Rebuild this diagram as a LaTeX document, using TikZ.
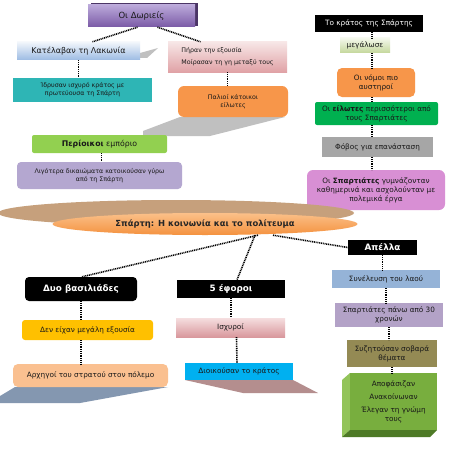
\documentclass[tikz,border=0pt]{standalone}
\usepackage{fontspec}
\setmainfont{DejaVu Sans}
\usetikzlibrary{shapes.geometric}

\definecolor{dorlight}{HTML}{BBA9DA}
\definecolor{dordark}{HTML}{7A5AA6}
\definecolor{dorshade}{HTML}{4B3566}
\definecolor{lakotop}{HTML}{F2F6FB}
\definecolor{lakobot}{HTML}{9CBBE3}
\definecolor{powtop}{HTML}{F7E6E6}
\definecolor{powbot}{HTML}{E0A2A6}
\definecolor{teal}{HTML}{2EB5B5}
\definecolor{helorange}{HTML}{F7964A}
\definecolor{shadowgray}{HTML}{C0C0C0}
\definecolor{periogreen}{HTML}{92D050}
\definecolor{rightslav}{HTML}{B4A7D0}
\definecolor{grewtop}{HTML}{F4F8EC}
\definecolor{grewbot}{HTML}{C4D79B}
\definecolor{helgreen}{HTML}{00B050}
\definecolor{feargray}{HTML}{A6A6A6}
\definecolor{orchid}{HTML}{D88FD4}
\definecolor{tanell}{HTML}{C6A07C}
\definecolor{titlelight}{HTML}{FBC089}
\definecolor{titledark}{HTML}{F4923F}
\definecolor{gold}{HTML}{FFC000}
\definecolor{peach}{HTML}{FAC090}
\definecolor{slateshadow}{HTML}{8497B0}
\definecolor{strongtop}{HTML}{F5DEDF}
\definecolor{strongbot}{HTML}{D9989D}
\definecolor{cyanbox}{HTML}{00B0F0}
\definecolor{roseshadow}{HTML}{B48E8E}
\definecolor{assemblyblue}{HTML}{95B3D7}
\definecolor{lavender}{HTML}{B3A2C7}
\definecolor{olive}{HTML}{948A54}
\definecolor{cubefront}{HTML}{78AE3E}
\definecolor{cubeleft}{HTML}{93C45A}
\definecolor{cubebottom}{HTML}{4E7A26}

\tikzset{
  box/.style={inner sep=1pt, align=center, text=black!90,
    font=\fontsize{7.3}{9}\selectfont},
  smallbox/.style={box, font=\fontsize{6.3}{8}\selectfont},
  darkbox/.style={box, fill=black, text=white,
    font=\bfseries\fontsize{8.8}{10}\selectfont},
  link/.style={line width=1.6pt, dash pattern=on 1pt off 0.8pt, black},
}

\begin{document}
\begin{tikzpicture}[x=1pt,y=-1pt]
  \fill[white] (0,0) rectangle (452,452);
  \useasboundingbox (0,0) rectangle (452,452);

  % shadows behind the boxes
  \fill[dorshade] (91,3) rectangle (198,26);
  \fill[shadowgray] (140,53) -- (158,48) -- (147,58) -- (140,58) -- cycle;
  \fill[shadowgray] (180,117) -- (285,117) -- (210,136) -- (143,136) -- (143,131) -- cycle;
  \fill[slateshadow] (15,387) -- (168,387) -- (80,403) -- (0,403) -- (0,396) -- cycle;
  \fill[roseshadow] (185,380) -- (293,380) -- (318,393) -- (243,393) -- cycle;

  % Dorians
  \node[box, minimum width=107pt, minimum height=22pt, top color=dorlight, bottom color=dordark,
        font=\fontsize{8.5}{10}\selectfont] (dorians) at (141.5,16) {Οι Δωριείς};
  \node[box, minimum width=123pt, minimum height=18pt, top color=lakotop, bottom color=lakobot,
        font=\fontsize{8}{10}\selectfont] (lakonia) at (78.5,51) {Κατέλαβαν τη Λακωνία};
  \node[smallbox, minimum width=119pt, minimum height=30pt, top color=powtop, bottom color=powbot,
        align=left] (power) at (227.5,57) {Πήραν την εξουσία\\[4pt]Μοίρασαν τη γη μεταξύ τους};
  \node[smallbox, minimum width=139pt, minimum height=24pt, fill=teal] (capital) at (82.5,90)
        {Ίδρυσαν ισχυρό κράτος με\\πρωτεύουσα τη Σπάρτη};
  \node[smallbox, minimum width=110pt, minimum height=31pt, fill=helorange, rounded corners=6pt]
        (helots) at (233,101.5) {Παλιοί κάτοικοι\\είλωτες};
  \node[box, minimum width=135pt, minimum height=18pt, fill=periogreen, rounded corners=2pt,
        font=\fontsize{7.8}{9}\selectfont] (perioikoi) at (99.5,144) {{\bfseries Περίοικοι} εμπόριο};
  \node[smallbox, minimum width=165pt, minimum height=27pt, fill=rightslav, rounded corners=4pt]
        (rights) at (99.5,175.5) {Λιγότερα δικαιώματα κατοικούσαν γύρω\\από τη Σπάρτη};

  % the state of Sparta
  \node[box, minimum width=108pt, minimum height=17pt, fill=black, text=white] (state) at (369,23.5)
        {Το κράτος της Σπάρτης};
  \node[box, minimum width=50pt, minimum height=15pt, top color=grewtop, bottom color=grewbot]
        (grew) at (365,45.5) {μεγάλωσε};
  \node[box, minimum width=78pt, minimum height=29pt, fill=helorange, rounded corners=5pt]
        (laws) at (376,82.5) {Οι νόμοι πιο\\αυστηροί};
  \node[box, minimum width=123pt, minimum height=23pt, fill=helgreen, rounded corners=2pt]
        (helotsmore) at (376.5,113.5) {Οι {\bfseries είλωτες} περισσότεροι από\\τους Σπαρτιάτες};
  \node[box, minimum width=111pt, minimum height=20pt, fill=feargray] (fear) at (377.5,147)
        {Φόβος για επανάσταση};
  \node[box, minimum width=138pt, minimum height=40pt, fill=orchid, rounded corners=6pt]
        (training) at (376,190)
        {Οι {\bfseries Σπαρτιάτες} γυμνάζονταν\\καθημερινά και ασχολούνταν με\\πολεμικά έργα};

  % title
  \fill[tanell] (176,213) ellipse [x radius=178pt, y radius=13pt];
  \node[ellipse, inner sep=0pt, minimum width=305pt, minimum height=22pt,
        top color=titlelight, bottom color=titledark, text=black!85,
        font=\bfseries\fontsize{8.4}{10}\selectfont] (title) at (205,224)
        {Σπάρτη: Η κοινωνία και το πολίτευμα};

  % kings
  \node[darkbox, minimum width=112pt, minimum height=24pt, rounded corners=4pt] (kings) at (81,289)
        {Δυο βασιλιάδες};
  \node[box, minimum width=131pt, minimum height=20pt, fill=gold, rounded corners=3pt]
        (nopower) at (87.5,330) {Δεν είχαν μεγάλη  εξουσία};
  \node[box, minimum width=155pt, minimum height=23pt, fill=peach, rounded corners=5pt]
        (generals) at (90.5,375.5) {Αρχηγοί του στρατού στον πόλεμο};

  % ephors
  \node[darkbox, minimum width=108pt, minimum height=18pt] (ephors) at (231,289) {5 έφοροι};
  \node[box, minimum width=109pt, minimum height=19pt, top color=strongtop, bottom color=strongbot]
        (strong) at (230.5,327.5) {Ισχυροί};
  \node[box, minimum width=108pt, minimum height=17pt, fill=cyanbox] (govern) at (239,371.5)
        {Διοικούσαν το κράτος};

  % Apella
  \node[darkbox, minimum width=69pt, minimum height=15pt] (apella) at (382.5,247.5) {Απέλλα};
  \node[box, minimum width=108pt, minimum height=18pt, fill=assemblyblue] (assembly) at (386,279)
        {Συνέλευση του λαού};
  \node[box, minimum width=108pt, minimum height=24pt, fill=lavender] (over30) at (389,315)
        {Σπαρτιάτες πάνω από 30\\χρονών};
  \node[box, minimum width=90pt, minimum height=27pt, fill=olive] (discuss) at (392,353.5)
        {Συζητούσαν σοβαρά\\θέματα};
  \fill[cubeleft] (342,380) -- (350,373) -- (350,430) -- (342,437) -- cycle;
  \fill[cubebottom] (342,437) -- (350,430) -- (437,430) -- (430,437) -- cycle;
  \node[box, minimum width=87pt, minimum height=57pt, fill=cubefront] (decide) at (393.5,401.5)
        {Αποφάσιζαν\\[4pt]Ανακοίνωναν\\[4pt]Έλεγαν τη γνώμη\\τους};

  % connectors
  \draw[link] ([xshift=-4pt]dorians.south) -- ([xshift=14pt]lakonia.north);
  \draw[link] ([xshift=16pt]dorians.south) -- ([xshift=-27pt]power.north);
  \draw[link] (lakonia.south) -- (lakonia.south |- capital.north);
  \draw[link] (power.south) -- (power.south |- helots.north);
  \draw[link] ([xshift=2pt]perioikoi.south) -- ([xshift=2pt]rights.north);

  \coordinate (rspine) at (372,0);
  \foreach \a/\b in {state/grew, grew/laws, laws/helotsmore, helotsmore/fear, fear/training}
    \draw[link] (rspine |- \a.south) -- (rspine |- \b.north);

  \draw[link] ([xshift=53pt]title.south) -- ([xshift=1pt]kings.north);
  \draw[link] ([xshift=50pt]title.south) -- ([xshift=6pt]ephors.north);
  \draw[link] ([xshift=68pt]title.south) -- (apella.west);

  \draw[link] (kings.south) -- (kings.south |- nopower.north);
  \draw[link] (kings.south |- nopower.south) -- (kings.south |- generals.north);
  \draw[link] (ephors.south) -- (ephors.south |- strong.north);
  \draw[link] ([xshift=6pt]strong.south) -- ([xshift=-2pt]govern.north);
  \foreach \a/\b in {apella/assembly, assembly/over30, over30/discuss, discuss/decide}
    \draw[link] (\a.south) -- (\a.south |- \b.north);
\end{tikzpicture}
\end{document}
